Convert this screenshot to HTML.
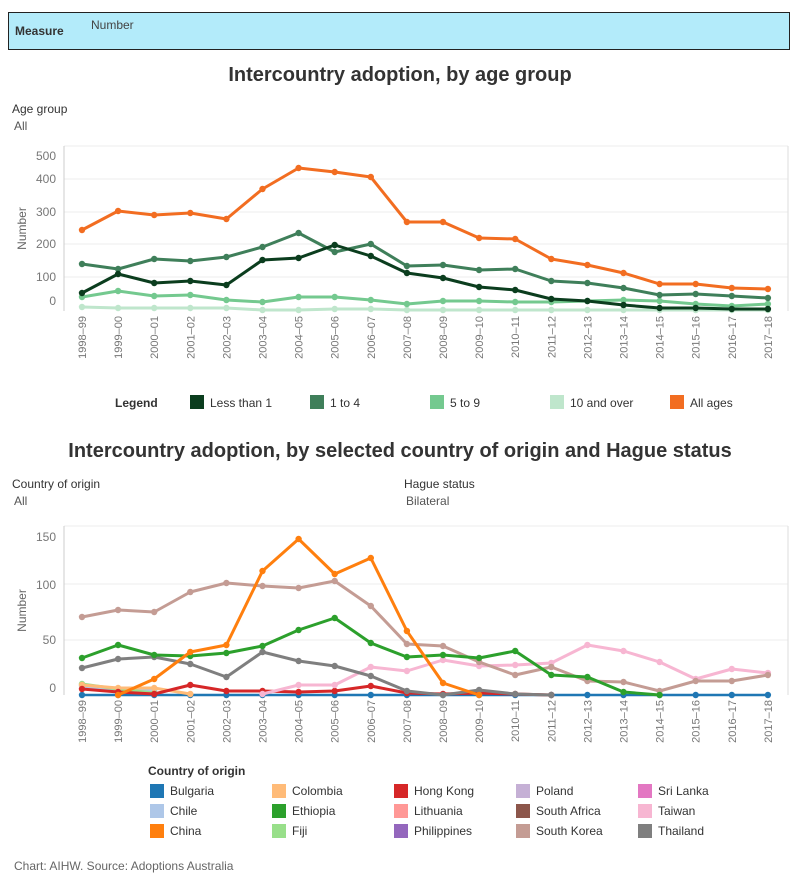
<!DOCTYPE html>
<html><head><meta charset="utf-8"><style>
body{margin:0;width:800px;height:890px;background:#fff;font-family:"Liberation Sans",sans-serif;overflow:hidden;position:relative}
.a{position:absolute;white-space:nowrap}
</style></head><body>
<div class="a" style="left:8px;top:12px;width:780px;height:36px;background:#b3ebfa;border:1px solid #222"></div>
<div class="a" style="left:15px;top:24px;font-size:12px;font-weight:bold;color:#333">Measure</div>
<div class="a" style="left:91px;top:18px;font-size:12px;color:#444">Number</div>
<div class="a" style="left:0;width:800px;text-align:center;top:64px;font-size:20px;font-weight:bold;color:#333">Intercountry adoption, by age group</div>
<div class="a" style="left:12px;top:102px;font-size:12px;color:#333">Age group</div>
<div class="a" style="left:14px;top:119px;font-size:12px;color:#555">All</div>
<div class="a" style="left:0;width:800px;text-align:center;top:440px;font-size:20px;font-weight:bold;color:#333">Intercountry adoption, by selected country of origin and Hague status</div>
<div class="a" style="left:12px;top:477px;font-size:12px;color:#333">Country of origin</div>
<div class="a" style="left:14px;top:494px;font-size:12px;color:#555">All</div>
<div class="a" style="left:404px;top:477px;font-size:12px;color:#333">Hague status</div>
<div class="a" style="left:406px;top:494px;font-size:12px;color:#555">Bilateral</div>
<div class="a" style="left:14px;top:859px;font-size:12px;color:#666">Chart: AIHW. Source: Adoptions Australia</div>
<svg id="s" width="800" height="890" style="position:absolute;left:0;top:0" font-family="Liberation Sans, sans-serif"></svg>
<script>
var s=document.getElementById('s'),h='';
var yrs=[];for(var i=0;i<20;i++){var y=1998+i;yrs.push(y+'–'+String((y+1)%100).padStart(2,'0'));}
function X(i){return 82+i*36.1;}
function axis(top,bot,grids,labels,ylab){
 grids.forEach(function(g){h+='<line x1="64" x2="788" y1="'+g+'" y2="'+g+'" stroke="#eee"/>';});
 h+='<line x1="64" x2="64" y1="'+top+'" y2="'+bot+'" stroke="#ccc"/>';
 h+='<line x1="788" x2="788" y1="'+top+'" y2="'+bot+'" stroke="#ddd"/>';
 labels.forEach(function(l){h+='<text x="56" y="'+(l[1]+4)+'" text-anchor="end" font-size="12" fill="#777">'+l[0]+'</text>';});
 h+='<text transform="translate(26,'+((top+bot)/2)+') rotate(-90)" text-anchor="middle" font-size="12" fill="#666">'+ylab+'</text>';
 yrs.forEach(function(t,i){h+='<text transform="translate('+(X(i)+4)+','+(bot+5)+') rotate(-90)" text-anchor="end" font-size="11" fill="#777">'+t+'</text>';});
}
function line(d,c,w,start){var p=[];d.forEach(function(v,i){if(v!=null)p.push(X(i+(start||0)).toFixed(1)+','+v);});
 h+='<polyline points="'+p.join(' ')+'" fill="none" stroke="'+c+'" stroke-width="'+(w||3)+'" stroke-linejoin="round"/>';
 d.forEach(function(v,i){if(v!=null)h+='<circle cx="'+X(i+(start||0))+'" cy="'+v+'" r="3.2" fill="'+c+'"/>';});}
axis(146,311,[146,179,212,244,277],[['500',156],['400',179],['300',212],['200',244],['100',277],['0',301]],'Number');
line([307,308,308,308,308,310,310,309,309,310,310,310,310,310,310,310,310,310,310,310],'#bfe6cc');
line([297,291,296,295,300,302,297,297,300,304,301,301,302,302,301,300,301,304,306,304],'#74c98f');
line([264,269,259,261,257,247,233,252,244,266,265,270,269,281,283,288,295,294,296,298],'#3f7f5a');
line([293,274,283,281,285,260,258,245,256,273,278,287,290,299,301,305,308,308,309,309],'#0b3d1e');
line([230,211,215,213,219,189,168,172,177,222,222,238,239,259,265,273,284,284,288,289],'#f26d21');
// legend 1
h+='<text x="115" y="407" font-size="12" font-weight="bold" fill="#333">Legend</text>';
[['Less than 1','#0b3d1e',190],['1 to 4','#3f7f5a',310],['5 to 9','#74c98f',430],['10 and over','#bfe6cc',550],['All ages','#f26d21',670]].forEach(function(l){
 h+='<rect x="'+l[2]+'" y="395" width="14" height="14" fill="'+l[1]+'"/><text x="'+(l[2]+20)+'" y="407" font-size="12" fill="#333">'+l[0]+'</text>';});
// chart 2
axis(526,695,[526,584,640],[['150',537],['100',585],['50',640],['0',688]],'Number');
var Z=695;
line([Z,Z,Z,Z,Z,Z,Z,Z,Z,Z,Z,Z,Z,Z,Z,Z,Z,Z,Z,Z],'#1f77b4',2.5);
line([686,690,690,null],'#aec7e8',3);
line([684,689,693],'#98df8a',3);
line([685,688,688,694],'#ffbb78',3);
line([689,692,694,685,691,691,692,691,686,693,694,693,694,695],'#d62728',3);
line([null,null,null,null,null,694,685,685,667,671,660,666,665,663,645,651,662,679,669,673],'#f7b6d2',3);
line([668,659,657,664,677,652,661,666,676,691,695,690,694,695],'#7f7f7f',3);
line([617,610,612,592,583,586,588,581,606,644,646,662,675,667,681,682,691,681,681,675],'#c49c94',3);
line([658,645,655,656,653,646,630,618,643,657,655,658,651,675,677,692,695],'#2ca02c',3);
line([null,695,679,652,645,571,539,574,558,631,683,695],'#ff7f0e',3);
// legend 2
h+='<text x="148" y="775" font-size="12" font-weight="bold" fill="#333">Country of origin</text>';
var L=[['Bulgaria','#1f77b4'],['Chile','#aec7e8'],['China','#ff7f0e'],['Colombia','#ffbb78'],['Ethiopia','#2ca02c'],['Fiji','#98df8a'],['Hong Kong','#d62728'],['Lithuania','#ff9896'],['Philippines','#9467bd'],['Poland','#c5b0d5'],['South Africa','#8c564b'],['South Korea','#c49c94'],['Sri Lanka','#e377c2'],['Taiwan','#f7b6d2'],['Thailand','#7f7f7f']];
L.forEach(function(l,i){var c=Math.floor(i/3),r=i%3,x=150+c*122,y=784+r*20;
 h+='<rect x="'+x+'" y="'+y+'" width="14" height="14" fill="'+l[1]+'"/><text x="'+(x+20)+'" y="'+(y+11)+'" font-size="12" fill="#333">'+l[0]+'</text>';});
s.innerHTML=h;
</script>
</body></html>
